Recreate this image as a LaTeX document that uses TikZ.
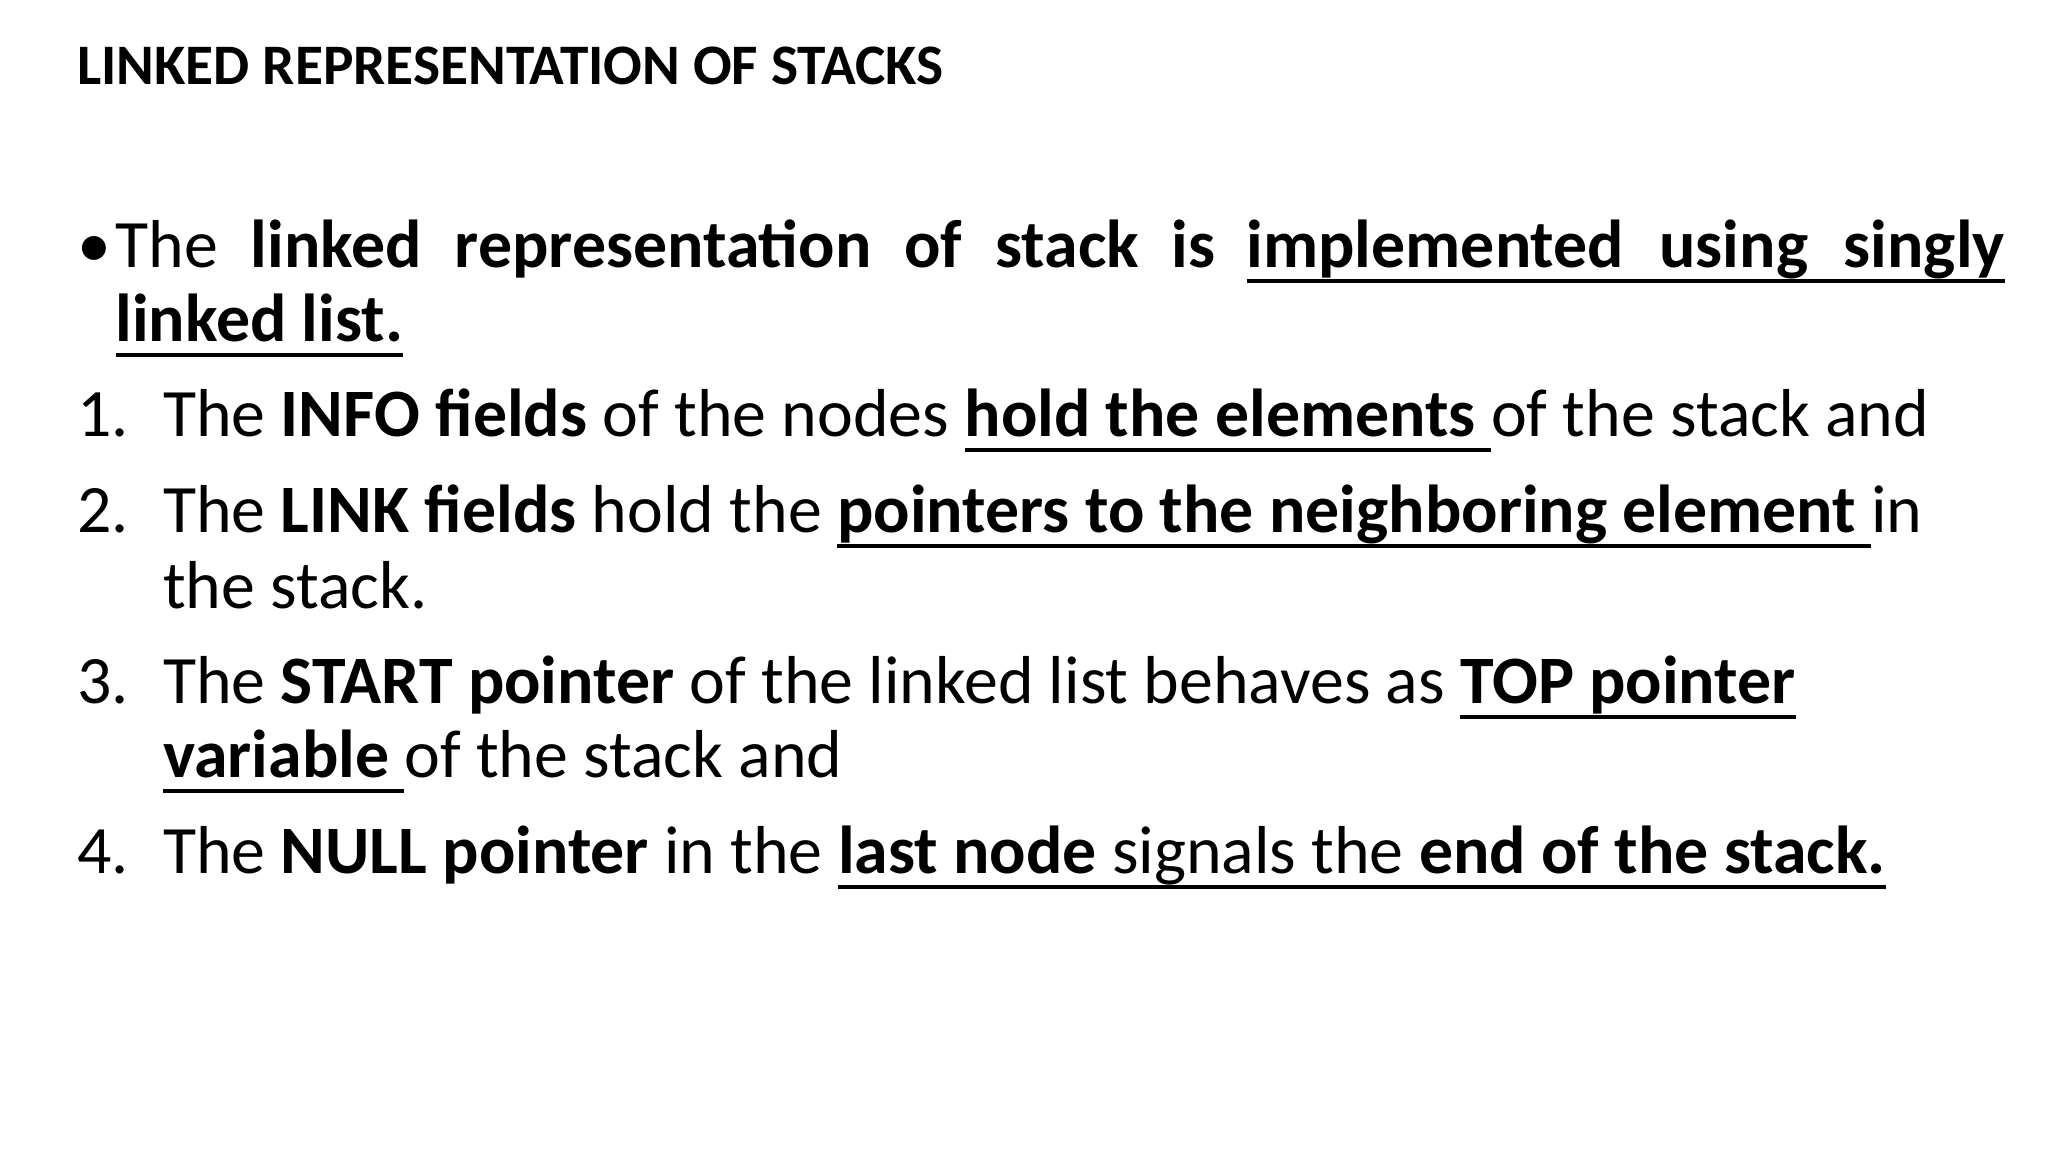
\documentclass[tikz,border=0pt]{standalone}
\usepackage{fontspec}
\setmainfont{Carlito}
\newcommand\myul[1]{\setbox0\hbox{#1}\rlap{\rule[-4.2pt]{\wd0}{1.1pt}}\box0}
\begin{document}
\begin{tikzpicture}[x=1cm,y=1cm,
  txt/.style={anchor=base west,inner sep=0pt,font=\fontsize{19.3pt}{23pt}\selectfont},
  ttl/.style={anchor=base west,inner sep=0pt,font=\fontsize{16.3pt}{20pt}\selectfont\bfseries}]
\useasboundingbox[fill=white] (0,0) rectangle (20.48,11.52);
\node[ttl] (title) at (0.766,10.675) {LINKED REPRESENTATION OF STACKS};
\node[txt] (b) at (0.766,8.84) {\textbullet};
\node[txt] (b1) at (1.148,8.84) {\makebox[11.0cm][s]{The \textbf{linked representation of stack is}}};
\node[txt] (b1u) at (12.46,8.84) {\myul{\makebox[7.58cm][s]{\textbf{implemented using singly}}}};
\node[txt] (b2) at (1.148,8.10) {\myul{\textbf{linked list.}}};
\node[txt] (n1) at (0.766,7.15) {1.};
\node[txt] (t1) at (1.624,7.15) {The \textbf{INFO fields} of the nodes \myul{\textbf{hold the elements }}of the stack and};
\node[txt] (n2) at (0.766,6.19) {2.};
\node[txt] (t2) at (1.624,6.19) {The \textbf{LINK fields} hold the \myul{\textbf{pointers to the neighboring element }}in};
\node[txt] (t2b) at (1.624,5.43) {the stack.};
\node[txt] (n3) at (0.766,4.48) {3.};
\node[txt] (t3) at (1.624,4.48) {The \textbf{START pointer} of the linked list behaves as \myul{\textbf{TOP pointer}}};
\node[txt] (t3b) at (1.624,3.74) {\myul{\textbf{variable }}of the stack and};
\node[txt] (n4) at (0.766,2.78) {4.};
\node[txt] (t4) at (1.624,2.78) {The \textbf{NULL pointer} in the \myul{\textbf{last node} signals the \textbf{end of the stack.}}};
\end{tikzpicture}
\end{document}
